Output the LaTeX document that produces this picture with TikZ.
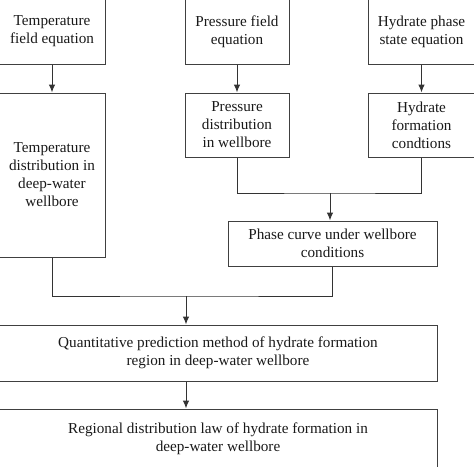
\documentclass[tikz,border=0pt]{standalone}
\usepackage{fontspec}
\setmainfont{Liberation Serif}
\usetikzlibrary{positioning}
\usetikzlibrary{arrows.meta}
\tikzset{
  stepbox/.style={draw=black!75, line width=1pt, align=center, inner sep=0pt,
    text=black!90, font=\fontsize{15.2}{18}\selectfont},
  link/.style={draw=black!80, line width=1pt},
  arrowlink/.style={link, -{Latex[length=8pt,width=6.5pt]}}
}

\begin{document}
\begin{tikzpicture}[x=1pt, y=-1pt]
  \useasboundingbox (0,0) rectangle (474,466);
  \clip (0,0) rectangle (474,466);
  % top row
  \node[stepbox, minimum width=106pt, minimum height=65pt] (tfe) at (52,31.5) {Temperature\\field equation};
  \node[stepbox, minimum width=104pt, minimum height=65pt] (pfe) at (237,31.5) {Pressure field\\equation};
  \node[stepbox, minimum width=107pt, minimum height=65pt] (hpe) at (421.5,31.5) {Hydrate phase\\state equation};
  % second row
  \node[stepbox, minimum width=106pt, minimum height=164pt] (tdist) at (52,175) {Temperature\\distribution in\\deep-water\\wellbore};
  \node[stepbox, minimum width=104pt, minimum height=64pt] (pdist) at (237,125) {Pressure\\distribution\\in wellbore};
  \node[stepbox, minimum width=107pt, minimum height=64pt] (hcond) at (421.5,125) {Hydrate\\formation\\condtions};
  \node[stepbox, minimum width=209pt, minimum height=45pt] (phase) at (332.5,243.5) {Phase curve under wellbore\\conditions};
  % bottom rows
  \node[stepbox, minimum width=438pt, minimum height=56pt] (method) at (218,353) {Quantitative prediction method of hydrate formation\\region in deep-water wellbore};
  \node[stepbox, minimum width=438pt, minimum height=59pt] (law) at (218,438.5) {Regional distribution law of hydrate formation in\\deep-water wellbore};

  \draw[arrowlink] (tfe) -- (tdist);
  \draw[arrowlink] (pfe) -- (pdist);
  \draw[arrowlink] (hpe) -- (hcond);
  \coordinate (join1) at (330,193);
  \draw[link] (pdist.south) |- (join1) -| (hcond.south);
  \draw[arrowlink] (join1) -- (join1 |- phase.north);
  \coordinate (join2) at (186,296);
  \draw[link] (tdist.south) |- (join2) -| (phase.south);
  \draw[arrowlink] (join2) -- (join2 |- method.north);
  \draw[arrowlink] (join2 |- method.south) -- (join2 |- law.north);
\end{tikzpicture}
\end{document}
